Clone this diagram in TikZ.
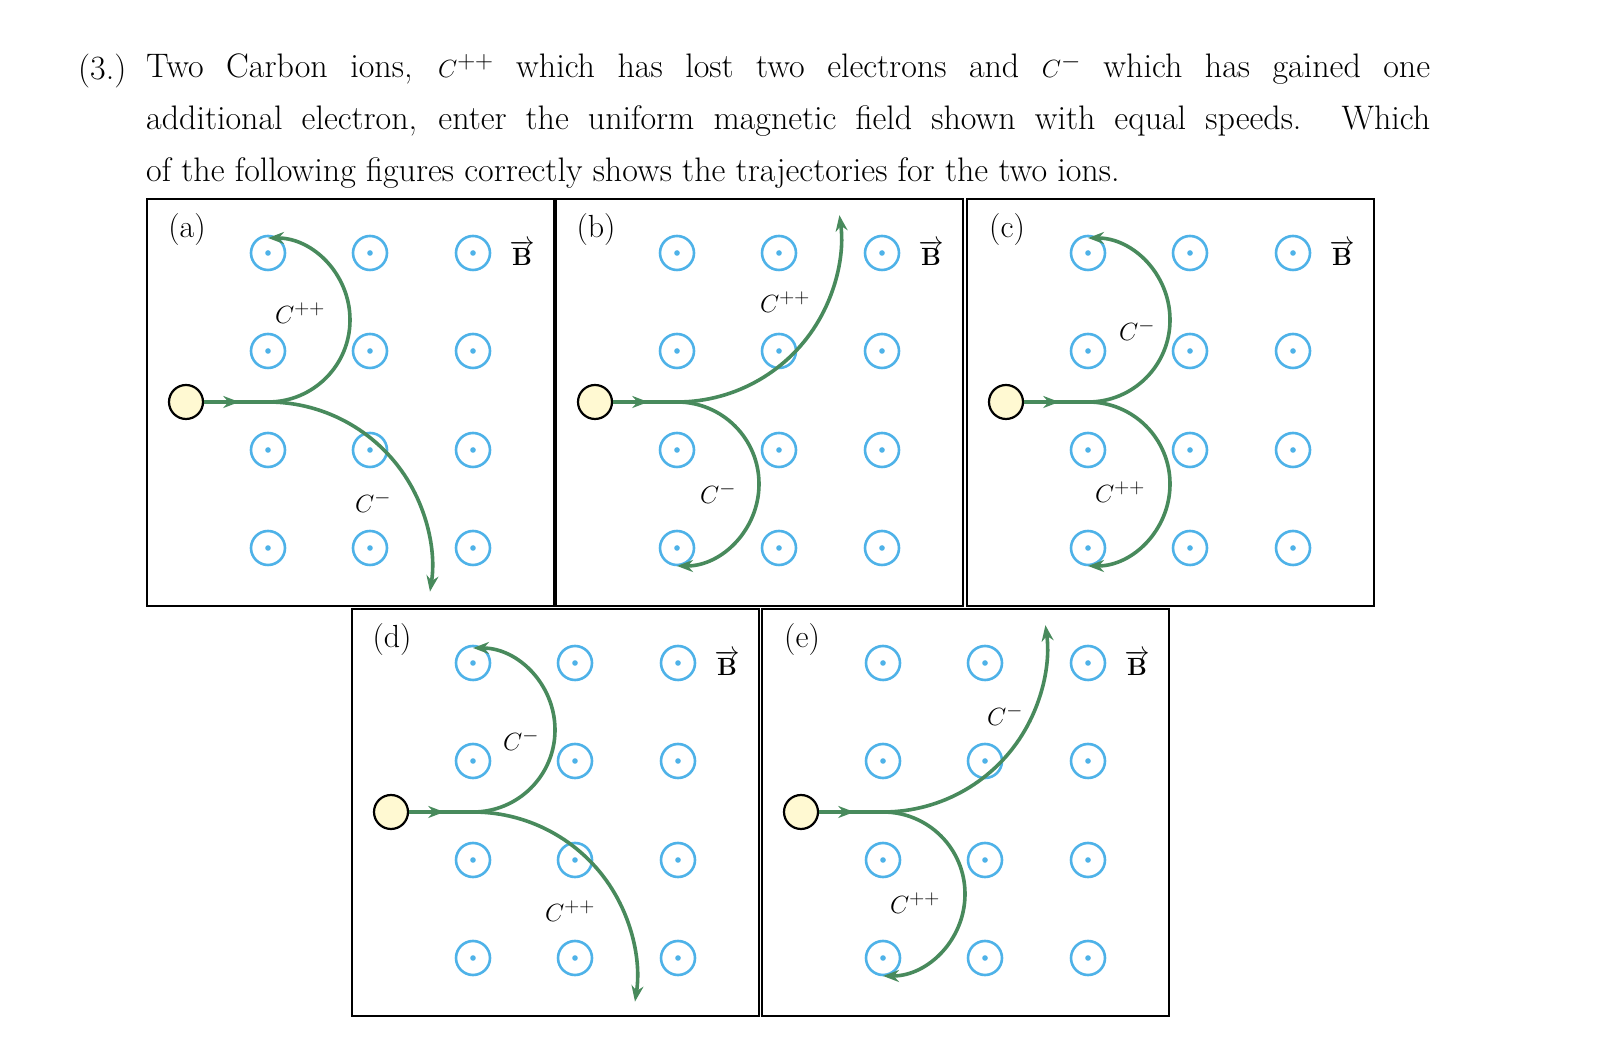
\documentclass[tikz,border=0pt]{standalone}
\usetikzlibrary{arrows.meta,decorations.markings}
\definecolor{fieldblue}{RGB}{78,178,232}
\definecolor{trajgreen}{RGB}{72,138,92}
\definecolor{ballfill}{RGB}{255,249,210}
\tikzset{
  panelbox/.style={draw=black,line width=2.2pt},
  fieldring/.style={draw=fieldblue,line width=2.6pt},
  traj/.style={draw=trajgreen,line width=3.6pt,-{Stealth[length=16pt,width=12pt]}},
  ball/.style={circle,draw=black,line width=2.2pt,fill=ballfill,minimum size=34pt,inner sep=0pt},
  lbl/.style={font=\fontsize{32}{36}\selectfont,inner sep=0pt},
  inlet/.style={draw=trajgreen,line width=3.6pt,postaction={decorate},
    decoration={markings,mark=at position 0.55 with {\arrow{Stealth[length=16pt,width=12pt]}}}}
}
\newcommand\fieldgrid{%
  \foreach \cx in {121,223,326}{\foreach \cy in {-54,-152,-251,-349}{
    \draw[fieldring] (\cx,\cy) circle (17);
    \fill[fieldblue] (\cx,\cy) circle (2.8);}}}
\newcommand\panelbase[2]{%
  \draw[panelbox] (0,0) rectangle (407,-407);
  \fieldgrid
  \node[lbl] (#1lab) at (40,-31) {(#2)};
  \node[lbl] (#1B) at (375,-54) {$\overrightarrow{\mathbf{B}}$};
  \node[ball] (#1ball) at (39,-203) {};
  \coordinate (#1split) at (121,-203);
  \draw[inlet] (#1ball) -- (#1split);}
\newcommand\upsmall[1]{\draw[traj] (#1split) arc[start angle=-90,end angle=90,radius=82];}
\newcommand\downsmall[1]{\draw[traj] (#1split) arc[start angle=90,end angle=-90,radius=82];}
\newcommand\uplarge[1]{\draw[traj] (#1split) arc[start angle=-90,end angle=8,radius=164];}
\newcommand\downlarge[1]{\draw[traj] (#1split) arc[start angle=90,end angle=-9,radius=164];}
\begin{document}
\begin{tikzpicture}[x=1pt,y=1pt]
\useasboundingbox (0,0) rectangle (1624,1062);
\fill[white] (0,0) rectangle (1624,1062);
\node[anchor=base west,inner sep=0pt,font=\fontsize{34}{52}\selectfont] (qnum) at (78,982) {(3.)};
\node[anchor=north west,inner sep=0pt,text width=1284pt,align=justify,font=\fontsize{34}{52}\selectfont] (qtext) at (146,1008)
 {Two Carbon ions, $C^{++}$ which has lost two electrons and $C^{-}$ which has gained one\linebreak additional electron, enter the uniform magnetic field shown with equal speeds. Which\linebreak of the following figures correctly shows the trajectories for the two ions.};
% (a)
\begin{scope}[shift={(147,863)}]
  \panelbase{a}{a}
  \upsmall{a}\downlarge{a}
  \node[lbl] (aup) at (153,-114) {$C^{++}$};
  \node[lbl] (adn) at (226,-303) {$C^{-}$};
\end{scope}
% (b)
\begin{scope}[shift={(556,863)}]
  \panelbase{b}{b}
  \uplarge{b}\downsmall{b}
  \node[lbl] (bup) at (229,-103) {$C^{++}$};
  \node[lbl] (bdn) at (162,-294) {$C^{-}$};
\end{scope}
% (c)
\begin{scope}[shift={(967,863)}]
  \panelbase{c}{c}
  \upsmall{c}\downsmall{c}
  \node[lbl] (cup) at (170,-131) {$C^{-}$};
  \node[lbl] (cdn) at (153,-293) {$C^{++}$};
\end{scope}
% (d)
\begin{scope}[shift={(352,453)}]
  \panelbase{d}{d}
  \upsmall{d}\downlarge{d}
  \node[lbl] (dup) at (169,-131) {$C^{-}$};
  \node[lbl] (ddn) at (218,-302) {$C^{++}$};
\end{scope}
% (e)
\begin{scope}[shift={(762,453)}]
  \panelbase{e}{e}
  \uplarge{e}\downsmall{e}
  \node[lbl] (eup) at (243,-106) {$C^{-}$};
  \node[lbl] (edn) at (153,-294) {$C^{++}$};
\end{scope}
\end{tikzpicture}
\end{document}
